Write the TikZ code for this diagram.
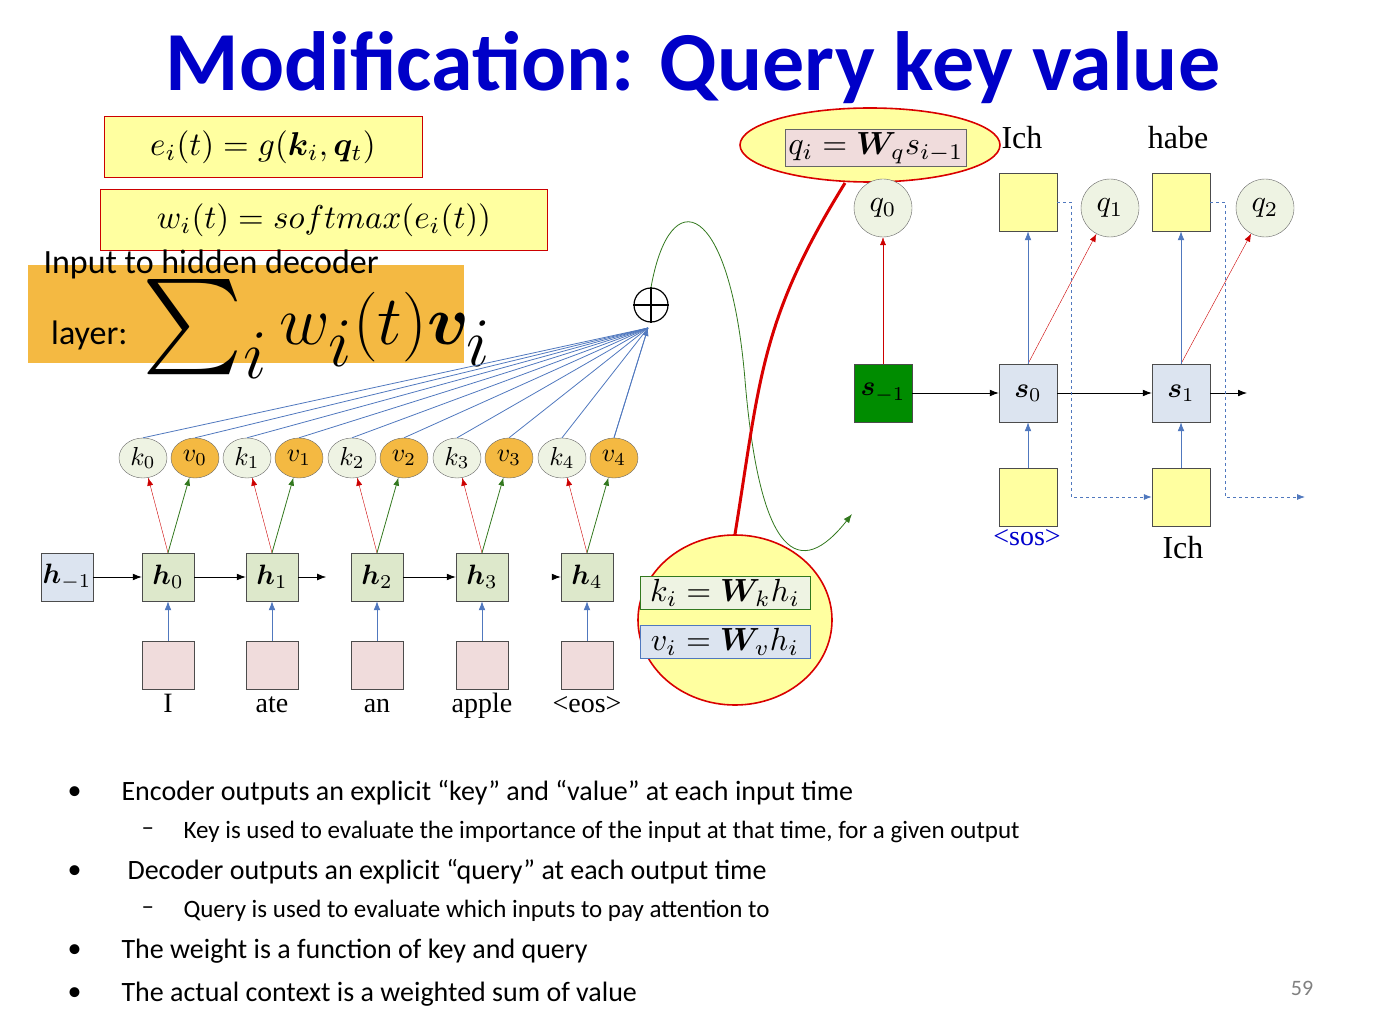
\documentclass[tikz,border=0pt]{standalone}
\usepackage{amsmath}
\usepackage{amssymb}
\usepackage{bm}
\usepackage{fontspec}
\setmainfont{Liberation Serif}
\newfontfamily\calib{Carlito}
\usetikzlibrary{shapes.geometric,arrows.meta}
\definecolor{titleblue}{RGB}{0,0,200}
\definecolor{hgreen}{RGB}{221,232,203}
\definecolor{sblue}{RGB}{220,228,240}
\definecolor{inpink}{RGB}{240,220,220}
\definecolor{vorange}{RGB}{244,185,66}
\definecolor{kgreen}{RGB}{238,243,227}
\definecolor{ylw}{RGB}{255,255,160}
\definecolor{lineblue}{RGB}{80,120,190}
\definecolor{dkgreen}{RGB}{50,120,30}
\newcommand{\fs}[1]{\fontsize{#1}{#1}\selectfont}
\newcommand{\mth}[2]{\scalebox{#1}{$#2$}}
\begin{document}
\begin{tikzpicture}[x=1pt,y=-1pt,
    hbox/.style={draw=black!70,fill=hgreen,minimum width=52pt,minimum height=48pt,inner sep=0pt},
    ibox/.style={draw=black!70,fill=inpink,minimum width=52pt,minimum height=48pt,inner sep=0pt},
    ybox/.style={draw=black!70,fill=ylw,minimum width=58pt,minimum height=58pt,inner sep=0pt},
    kov/.style={ellipse,draw=black!60,fill=kgreen,minimum width=48pt,minimum height=40pt,inner sep=0pt},
    vov/.style={kov,fill=vorange},
    qov/.style={circle,draw=black!60,fill=kgreen,minimum size=58pt,inner sep=0pt},
    eqbox/.style={draw=red!80!black,thick,fill=ylw,inner sep=6pt},
    word/.style={font=\fs{28}},
    arr/.style={-{Latex[length=9pt]},thick},
    bul/.style={anchor=west,font=\calib\fs{28}}]
\useasboundingbox (0,0) rectangle (1386,1024);
% title
\node[font=\calib\bfseries\fs{84},text=titleblue] (title) at (693,68) {Modification: Query key value};
% equations
\node[eqbox,minimum width=318pt,minimum height=61pt] (eq1) at (263,147) {\mth{3.3}{e_i(t) = g(\bm{k}_i,\bm{q}_t)}};
\node[eqbox,minimum width=447pt,minimum height=61pt] (eq2) at (324,220) {\mth{3.3}{w_i(t) = softmax(e_i(t))}};
\node[fill=vorange,minimum width=436pt,minimum height=98pt,inner sep=0pt] (inp) at (246,314) {};
\node[anchor=west,align=left,font=\calib\fs{34}] (inptxt) at (40,314)
  {Input to hidden decoder\\ \ layer:\ \ \mth{2.8}{\sum_i w_i(t)\bm{v}_i}};
% encoder
\node[hbox,fill=sblue] (hm) at (67,577) {\mth{2.8}{\bm{h}_{-1}}};
\foreach \i/\x/\w in {0/168/I,1/272/ate,2/377/an,3/482/apple,4/587/<eos>}{
  \node[hbox] (h\i) at (\x,577) {\mth{2.8}{\bm{h}_{\i}}};
  \node[ibox] (in\i) at (\x,665) {};
  \node[word,anchor=base] (w\i) at (\x,712) {\w};
  \node[kov] (k\i) at (\x-25,458) {\mth{2.6}{k_{\i}}};
  \node[vov] (v\i) at (\x+27,458) {\mth{2.6}{v_{\i}}};
  \draw[arr,lineblue] (in\i) -- (h\i);
  \draw[-{Latex[length=8pt]},red!80!black] (h\i.north) -- (k\i);
  \draw[-{Latex[length=8pt]},dkgreen,thick] (h\i.north) -- (v\i);
}
\draw[arr] (hm) -- (h0);
\draw[arr] (h0) -- (h1);
\draw[arr] (h1.east) -- ++(28,0);
\draw[arr] (h2) -- (h3);
\draw[arr] (h3.east) ++(48,0) -- (h4);
% sum
\coordinate (sum) at (648,328);
\node[circle,draw,very thick,minimum size=34pt,inner sep=0pt] (plus) at (651,305) {};
\draw[very thick] (plus.north) -- (plus.south) (plus.west) -- (plus.east);
\foreach \i in {0,...,4}{
  \draw[lineblue,thick] (k\i.north) -- (sum);
  \draw[lineblue,thick] (v\i.north) -- (sum);
}
\draw[lineblue,-{Latex[length=8pt]},thick] (v4.north) -- (sum);
\coordinate (gend) at (852,514);
\draw[dkgreen,thick,-{Latex[length=9pt]}] (plus.north) .. controls (670,180) and (730,200) .. (745,380)
  .. controls (760,560) and (800,580) .. (gend);
% key/value ellipse
\node[ellipse,draw=red!85!black,ultra thick,fill=ylw,minimum width=194pt,minimum height=170pt] (kvell) at (735,620) {};
\node[draw=dkgreen,thick,fill=kgreen,inner sep=3pt,minimum width=170pt] (keq) at (725,593) {\mth{3.2}{k_i = \bm{W}_k h_i}};
\node[draw=lineblue,thick,fill=sblue,inner sep=3pt,minimum width=170pt] (veq) at (725,642) {\mth{3.2}{v_i = \bm{W}_v h_i}};
% query ellipse
\node[ellipse,draw=red!85!black,ultra thick,fill=ylw,minimum width=260pt,minimum height=74pt] (qell) at (870,145) {};
\node[draw=black!60,fill=inpink,inner sep=3pt] (qeq) at (876,148) {\mth{3.2}{q_i = \bm{W}_q s_{i-1}}};
\draw[red!85!black,line width=3pt] (845,183) .. controls (760,320) and (760,380) .. (kvell.north);
% decoder
\node[hbox,fill=green!55!black,minimum width=58pt,minimum height=58pt] (sm) at (883,393) {\mth{2.8}{\bm{s}_{-1}}};
\node[hbox,fill=sblue,minimum width=58pt,minimum height=58pt] (s0) at (1028,393) {\mth{2.8}{\bm{s}_0}};
\node[hbox,fill=sblue,minimum width=58pt,minimum height=58pt] (s1) at (1181,393) {\mth{2.8}{\bm{s}_1}};
\coordinate (send) at (1247,393);
\node[qov] (q0) at (883,208) {\mth{3}{q_0}};
\node[qov] (q1) at (1110,208) {\mth{3}{q_1}};
\node[qov] (q2) at (1265,208) {\mth{3}{q_2}};
\node[ybox] (yt0) at (1028,202) {};
\node[ybox] (yt1) at (1181,202) {};
\node[ybox] (yb0) at (1028,497) {};
\node[ybox] (yb1) at (1181,497) {};
\node[word,font=\fs{32}] (ich) at (1022,138) {Ich};
\node[word,font=\fs{32}] (habe) at (1178,138) {habe};
\node[word,text=blue!80!black] (sos) at (1027,538) {<sos>};
\node[word,font=\fs{32}] (ich2) at (1183,548) {Ich};
\draw[arr] (sm) -- (s0);
\draw[arr] (s0) -- (s1);
\draw[arr] (s1) -- (send);
\draw[-{Latex[length=8pt]},red!80!black] (sm) -- (q0);
\draw[-{Latex[length=8pt]},red!80!black] (s0.north) -- (q1);
\draw[-{Latex[length=8pt]},red!80!black] (s1.north) -- (q2);
\draw[arr,lineblue] (s0) -- (yt0);
\draw[arr,lineblue] (s1) -- (yt1);
\draw[arr,lineblue] (yb0) -- (s0);
\draw[arr,lineblue] (yb1) -- (s1);
\coordinate (dend) at (1305,497);
\draw[lineblue,thick,dashed,-{Latex[length=8pt]}] (yt0.east) -- ++(14,0) |- (yb1.west);
\draw[lineblue,thick,dashed,-{Latex[length=8pt]}] (yt1.east) -- ++(15,0) |- (dend);
% bullets
\foreach \y/\t in {793/Encoder outputs an explicit “key” and “value” at each input time,
                   951/The weight is a function of key and query,
                   994/The actual context is a weighted sum of value}{
  \node[bul] at (64,\y) {•};
  \node[bul] at (118,\y) {\t};
}
\node[bul] at (64,872) {•};
\node[bul] at (124,872) {Decoder outputs an explicit “query” at each output time};
\node[bul,font=\calib\fs{25}] at (138,832) {–};
\node[bul,font=\calib\fs{25}] at (180,832) {Key is used to evaluate the importance of the input at that time, for a given output};
\node[bul,font=\calib\fs{25}] at (138,911) {–};
\node[bul,font=\calib\fs{25}] at (180,911) {Query is used to evaluate which inputs to pay attention to};
\node[font=\calib\fs{22},text=black!50] (pg) at (1302,988) {59};
\end{tikzpicture}
\end{document}
